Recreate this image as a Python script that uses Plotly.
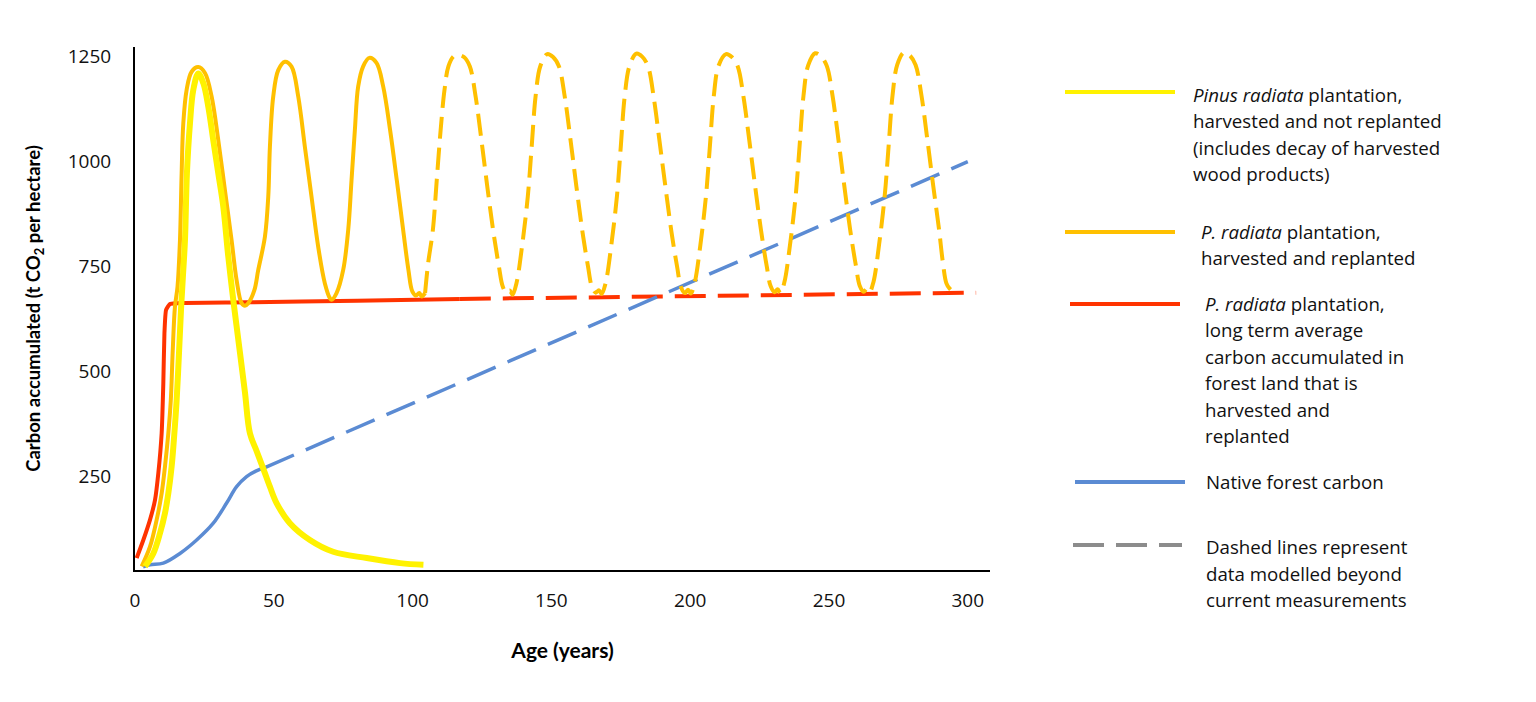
import plotly.graph_objects as go

# ---------------- data ----------------
# Pinus radiata plantation, harvested and not replanted (solid, measured)
yellow_x = [3.6, 6.6, 9.0, 10.8, 12.0, 13.2, 14.0, 15.0, 15.9, 16.6, 17.3, 18.0, 18.7, 19.8, 21.0,
            22.8, 24.6, 26.4, 28.2, 30.0, 31.8, 33.6, 35.4, 37.8, 39.6, 41.4, 43.8, 46.2, 48.6,
            51.0, 55.8, 63.0, 71.4, 83.5, 95.5, 103.9]
yellow_y = [35, 66, 114, 162, 209, 273, 336, 431, 550, 650, 730, 812, 971, 1090, 1170,
            1209, 1186, 1130, 1050, 971, 892, 773, 670, 545, 450, 352, 310, 268, 225,
            186, 138, 98, 70, 55, 43, 39]

# P. radiata plantation, harvested and replanted (measured part)
orange_x = [2.4, 5.4, 7.8, 9.6, 10.8, 12.0, 12.9, 13.6, 14.4, 15.3, 16.2, 16.8, 17.4, 18.6, 20.4,
            22.8, 25.2, 27.6, 30.0, 32.4, 34.8, 36.6, 38.4, 39.6, 40.8, 43.0, 44.4, 46.8, 48.0,
            48.6, 49.8, 51.6, 54.0, 56.4, 58.8, 61.2, 63.6, 66.0, 68.4, 70.2, 70.8, 72.6, 75.0,
            76.8, 78.0, 79.2, 80.4, 82.2, 84.4, 87.0, 89.4, 91.9, 94.3, 96.6, 98.5, 99.9, 101.2,
            102.4, 103.3, 104.5]
orange_y = [35, 82, 146, 209, 273, 352, 431, 550, 654, 700, 812, 971, 1090, 1170, 1213,
            1224, 1210, 1154, 1050, 931, 812, 717, 662, 656, 662, 693, 741, 820, 915,
            1034, 1154, 1217, 1237, 1225, 1154, 1034, 915, 796, 709, 674, 670, 686, 741,
            836, 955, 1074, 1178, 1226, 1246, 1234, 1178, 1074, 955, 836, 741, 690, 680,
            686, 678, 686]

# P. radiata plantation, harvested and replanted (modelled part)
orange_mod_x = [104.5, 105.6, 107.3, 108.7, 110.1, 111.5, 112.9, 114.8, 116.4, 118.5, 120.6, 122.7,
                124.8, 126.9, 129.0, 131.1, 132.5, 133.9, 135.0, 136.0, 137.4, 139.4, 141.5, 142.9,
                144.3, 146.0, 148.5, 150.6, 152.7, 154.8, 156.9, 159.0, 161.1, 163.2, 164.6, 166.0,
                167.1, 168.1, 169.5, 171.5, 173.6, 175.0, 176.4, 178.1, 180.6, 182.7, 184.8, 186.9,
                189.0, 191.1, 193.2, 195.3, 196.7, 198.1, 199.2, 200.2, 201.6, 203.6, 205.7, 207.1,
                208.5, 210.2, 212.9, 215.0, 217.1, 219.2, 221.3, 223.4, 225.5, 227.6, 229.0, 230.4,
                231.5, 232.5, 233.9, 235.9, 238.0, 239.4, 240.8, 242.5, 245.0, 247.1, 249.2, 251.3,
                253.4, 255.5, 257.6, 259.7, 261.1, 262.5, 263.6, 264.6, 266.0, 268.0, 270.1, 271.5,
                272.9, 274.6, 277.0, 279.1, 281.2, 283.3, 285.4, 287.5, 289.6, 291.0, 292.3, 293.4,
                294.8, 296.5]
orange_mod_y = [686, 757, 836, 955, 1074, 1170, 1226, 1250, 1253, 1248, 1226, 1154,
                1050, 940, 836, 749, 701, 686, 692, 682, 709, 796, 916, 1035,
                1154, 1226, 1255, 1248, 1226, 1154, 1050, 940, 836, 749, 701, 687,
                693, 684, 709, 796, 916, 1035, 1154, 1226, 1256, 1249, 1226, 1150,
                1045, 938, 834, 748, 700, 686, 694, 685, 710, 797, 918, 1036,
                1155, 1227, 1255, 1248, 1226, 1153, 1049, 940, 836, 749, 702, 688,
                695, 686, 711, 798, 918, 1036, 1155, 1228, 1257, 1250, 1227, 1155,
                1051, 942, 838, 751, 703, 689, 696, 688, 712, 799, 920, 1038,
                1157, 1230, 1259, 1252, 1229, 1157, 1053, 944, 840, 760, 709, 697,
                690, 693]

# Long term average carbon (measured / modelled)
red_x = [0.6, 3.0, 5.4, 7.2, 8.4, 9.6, 10.2, 10.6, 11.2, 12.6, 15.0, 40.0, 80.0, 117.0]
red_y = [55, 98, 146, 193, 257, 352, 471, 590, 646, 660, 662, 664, 668, 672]
red_mod_x = [117.0, 160.0, 193.0, 240.0, 303.0]
red_mod_y = [672, 675, 677, 681, 687]

# Native forest carbon (measured / modelled)
blue_x = [2.9, 5.4, 10.2, 16.2, 22.2, 28.2, 33.0, 36.6, 40.2, 43.5, 47.0]
blue_y = [34, 39, 43, 66, 98, 138, 186, 225, 249, 262, 271]
blue_mod_x = [47.0, 193.0, 300.0]
blue_mod_y = [271, 692, 999]

x_ticks = [0, 50, 100, 150, 200, 250, 300]
y_ticks = [250, 500, 750, 1000, 1250]

# ---------------- styling ----------------
YELLOW = "#FFF200"
ORANGE = "#FFC000"
RED = "#FF3300"
BLUE = "#5B8BD3"
GREY = "#8C8C8C"

W, H = 1536, 702
L, R, T, B = 135, 990, 47, 570   # plot area in pixels


def px(xp):
    return (xp - L) / (R - L)


def py(yp):
    return (B - yp) / (B - T)


fig = go.Figure()

common = dict(mode="lines", hoverinfo="skip", showlegend=False)

fig.add_trace(go.Scatter(x=red_x, y=red_y, line=dict(color=RED, width=4, shape="spline", smoothing=0.5), **common))
fig.add_trace(go.Scatter(x=red_mod_x, y=red_mod_y, line=dict(color=RED, width=4, dash="31px,12px"), **common))
fig.add_trace(go.Scatter(x=blue_x, y=blue_y, line=dict(color=BLUE, width=3.5, shape="spline", smoothing=1), **common))
fig.add_trace(go.Scatter(x=blue_mod_x, y=blue_mod_y, line=dict(color=BLUE, width=3.5, dash="31px,13px"), **common))
fig.add_trace(go.Scatter(x=orange_x, y=orange_y, line=dict(color=ORANGE, width=4, shape="spline", smoothing=1), **common))
fig.add_trace(go.Scatter(x=orange_mod_x, y=orange_mod_y, line=dict(color=ORANGE, width=4, shape="spline", smoothing=1, dash="22px,9px"), **common))
fig.add_trace(go.Scatter(x=yellow_x, y=yellow_y, line=dict(color=YELLOW, width=6, shape="spline", smoothing=1), **common))

# ---------------- custom legend ----------------
legend_lines = [
    (1065, 1175, 92, YELLOW, None),
    (1065, 1175, 232, ORANGE, None),
    (1070, 1180, 304, RED, None),
    (1075, 1185, 482, BLUE, None),
    (1073, 1182, 545, GREY, "31px,12px"),
]
shapes = []
for x0, x1, yy, col, dash in legend_lines:
    ln = dict(color=col, width=4)
    if dash:
        ln["dash"] = dash
    shapes.append(dict(type="line", xref="paper", yref="paper", x0=px(x0), x1=px(x1),
                       y0=py(yy), y1=py(yy), line=ln))

legend_text = [
    (1191, 95, "<i>Pinus radiata</i> plantation,"),
    (1191, 121, "harvested and not replanted"),
    (1191, 148, "(includes decay of harvested"),
    (1191, 174, "wood products)"),
    (1199, 231, "<i>P. radiata</i> plantation,"),
    (1199, 257, "harvested and replanted"),
    (1203, 303, "<i>P. radiata</i> plantation,"),
    (1203, 329, "long term average"),
    (1203, 356, "carbon accumulated in"),
    (1203, 382, "forest land that is"),
    (1203, 409, "harvested and"),
    (1203, 435, "replanted"),
    (1204, 481, "Native forest carbon"),
    (1204, 546, "Dashed lines represent"),
    (1204, 573, "data modelled beyond"),
    (1204, 599, "current measurements"),
]
annotations = []
for xx, yy, txt in legend_text:
    annotations.append(dict(xref="paper", yref="paper", x=px(xx), y=py(yy), text=txt,
                            showarrow=False, xanchor="left", yanchor="middle",
                            font=dict(family="Open Sans", size=18.7, color="#111111")))

fig.update_layout(
    width=W, height=H,
    margin=dict(l=L, r=W - R, t=T, b=H - B, pad=0),
    paper_bgcolor="white", plot_bgcolor="white",
    shapes=shapes, annotations=annotations,
    font=dict(family="Open Sans", size=18, color="#111111"),
    xaxis=dict(range=[0, 308], tickvals=x_ticks, showgrid=False, zeroline=False,
               showline=True, linecolor="black", linewidth=2, ticks="",
               ticklabelstandoff=12,
               tickfont=dict(family="Open Sans", size=19, color="#111111"),
               title=dict(text="Age (years)", standoff=32,
                          font=dict(family="Lato", size=21, color="black", weight="bold"))),
    yaxis=dict(range=[26.6, 1271.9], tickvals=y_ticks, showgrid=False, zeroline=False,
               showline=True, linecolor="black", linewidth=2, ticks="",
               ticklabelstandoff=18,
               tickfont=dict(family="Open Sans", size=19, color="#111111"),
               title=dict(text="Carbon accumulated (t CO<sub>2</sub> per hectare)", standoff=22,
                          font=dict(family="Lato", size=18.5, color="black", weight="bold"))),
)

fig.write_html("out.html", config={"displayModeBar": False},
               post_script="document.body.style.margin='0px';")
